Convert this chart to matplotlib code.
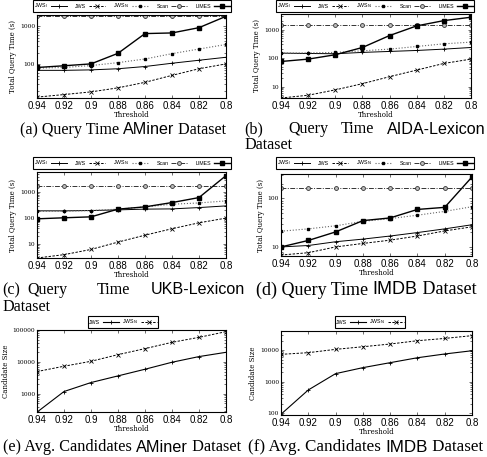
import numpy as np
import matplotlib
matplotlib.use('Agg')
import matplotlib.pyplot as plt
from matplotlib.ticker import FixedLocator, FuncFormatter, NullFormatter, LogLocator

# thresholds on the x axis (shown descending)
thresholds = [0.94, 0.92, 0.9, 0.88, 0.86, 0.84, 0.82, 0.8]
threshold_labels = ['0.94', '0.92', '0.9', '0.88', '0.86', '0.84', '0.82', '0.8']

# (a) query time, AMiner
aminer_jwsi = [69, 69, 71, 76, 87, 106, 127, 152]
aminer_jws = [13.7, 16, 18.8, 24, 33.5, 51, 76, 102]
aminer_jwsni = [79, 82, 92, 110, 137, 189, 250, 329]
aminer_scan = [1800, 1800, 1800, 1800, 1800, 1800, 1800, 1800]
aminer_limes = [82, 91, 102, 193, 635, 660, 908, 1800]

# (b) query time, AIDA-Lexicon
aida_jwsi = [149, 145, 142, 158, 171, 185, 206, 235]
aida_jws = [4.0, 5.0, 7.7, 12.7, 22.3, 38, 65, 92]
aida_jwsni = [149, 152, 158, 180, 206, 255, 316, 362]
aida_scan = [1500, 1500, 1500, 1500, 1500, 1500, 1500, 1500]
aida_limes = [76, 92, 131, 235, 616, 1343, 2053, 2700]

# (c) query time, UKB-Lexicon
ukb_jwsi = [191, 191, 196, 208, 222, 227, 255, 296]
ukb_jws = [2.9, 3.9, 6.2, 11.9, 22, 39, 66, 100]
ukb_jwsni = [185, 185, 196, 222, 270, 343, 385, 460]
ukb_scan = [1800, 1800, 1800, 1800, 1800, 1800, 1800, 1800]
ukb_limes = [94, 103, 112, 222, 272, 398, 620, 4350]

# (d) query time, IMDB
imdb_jwsi = [10, 10.7, 12.8, 14.5, 16.8, 19.8, 23.6, 28.7]
imdb_jws = [6.8, 7.6, 10, 11.8, 13.8, 16.8, 21.4, 26]
imdb_jwsni = [21.1, 23.6, 27.3, 33.7, 38.4, 45.2, 54.1, 67.7]
imdb_scan = [163, 163, 163, 163, 163, 163, 163, 163]
imdb_limes = [10, 13.6, 20.4, 34.9, 39.7, 59.4, 65.6, 278]

# (e) avg candidates, AMiner
cand_aminer_jws = [267, 1183, 2260, 3650, 5900, 9770, 14700, 20000]
cand_aminer_jwsni = [4990, 7330, 10470, 16900, 26100, 41100, 58900, 88700]

# (f) avg candidates, IMDB
cand_imdb_jws = [93, 545, 1790, 2770, 3980, 5700, 7500, 9500]
cand_imdb_jwsni = [7300, 8250, 10500, 12700, 15500, 19700, 23300, 28500]

W, H = 487, 457
fig = plt.figure(figsize=(W / 100, H / 100), dpi=100)
SERIF = 'DejaVu Serif'
CAPSERIF = 'Liberation Serif'
SANS = 'Liberation Sans'


def rect(x0, y0, x1, y1):
    return [x0 / W, 1 - y1 / H, (x1 - x0) / W, (y1 - y0) / H]


def style_axes(ax, ylim, ylabel):
    ax.set_yscale('log')
    ax.set_xlim(0.94, 0.8)
    ax.set_ylim(*ylim)
    ax.xaxis.set_major_locator(FixedLocator(thresholds))
    ax.set_xticklabels(threshold_labels, fontsize=7, family=SANS)
    ax.yaxis.set_major_locator(LogLocator(base=10))
    ax.yaxis.set_minor_locator(LogLocator(base=10, subs=np.arange(2, 10)))
    ax.yaxis.set_major_formatter(FuncFormatter(lambda v, p: '%d' % round(v)))
    ax.yaxis.set_minor_formatter(NullFormatter())
    for lab in ax.get_yticklabels():
        lab.set_fontsize(4.3)
        lab.set_family(SERIF)
    ax.tick_params(which='both', direction='in', top=True, right=True,
                   width=0.4, pad=1.5)
    ax.tick_params(which='major', length=2.5)
    ax.tick_params(which='minor', length=1.3)
    ax.tick_params(axis='x', pad=2)
    for s in ax.spines.values():
        s.set_linewidth(0.8)
    ax.set_xlabel('Threshold', fontsize=5, family=SERIF, labelpad=0.5)
    ax.set_ylabel(ylabel, fontsize=5, family=SERIF, labelpad=2)


def add_legend(handles, labels, xy, colspace):
    leg = fig.legend(handles, labels,
                     loc='center', bbox_to_anchor=(xy[0] / W, 1 - xy[1] / H),
                     ncol=len(handles), fontsize=3.8, markerfirst=False,
                     handlelength=3.0, handletextpad=0.5, columnspacing=colspace,
                     borderpad=0.25, fancybox=False, edgecolor='black', framealpha=1)
    leg.get_frame().set_linewidth(0.8)
    for t in leg.get_texts():
        t.set_family(SANS)


def query_panel(box, jwsi, jws, jwsni, scan, limes, ylim, legend_xy):
    ax = fig.add_axes(rect(*box))
    h1, = ax.plot(thresholds, jwsi, color='black', lw=0.7, marker='+', ms=3, mew=0.6)
    h2, = ax.plot(thresholds, jws, color='black', lw=0.7, ls=(0, (2.5, 1.5)),
                  marker='x', ms=2.2, mew=0.6)
    h3, = ax.plot(thresholds, jwsni, color='#666666', lw=0.8, ls=':',
                  marker='s', ms=1.8, mfc='black', mec='black')
    h4, = ax.plot(thresholds, scan, color='#333333', lw=0.7, ls=(0, (5, 1.5, 1, 1.5)),
                  marker='o', ms=2.8, mfc='#bbbbbb', mec='#333333', mew=0.6)
    h5, = ax.plot(thresholds, limes, color='black', lw=1.0, marker='s', ms=2.2)
    style_axes(ax, ylim, 'Total Query Time (s)')
    add_legend([h1, h2, h3, h4, h5],
               [r'JWS$_\mathrm{I}$', 'JWS', r'JWS$_\mathrm{NI}$', 'Scan', 'LIMES'],
               legend_xy, 1.6)
    return ax


def cand_panel(box, jws, jwsni, ylim, legend_xy):
    ax = fig.add_axes(rect(*box))
    h1, = ax.plot(thresholds, jws, color='black', lw=0.8, marker='+', ms=3, mew=0.6)
    h2, = ax.plot(thresholds, jwsni, color='black', lw=0.7, ls=(0, (2.5, 1.5)),
                  marker='x', ms=2.4, mew=0.6)
    style_axes(ax, ylim, 'Candidate Size')
    add_legend([h1, h2], ['JWS', r'JWS$_\mathrm{NI}$'], legend_xy, 0.5)
    return ax


query_panel((37, 15, 226, 98), aminer_jwsi, aminer_jws, aminer_jwsni, aminer_scan,
            aminer_limes, (13, 1950), (132, 6))
query_panel((281, 14, 471, 98), aida_jwsi, aida_jws, aida_jwsni, aida_scan,
            aida_limes, (4, 3500), (375, 6))
query_panel((37, 172, 226, 258), ukb_jwsi, ukb_jws, ukb_jwsni, ukb_scan,
            ukb_limes, (2.9, 6000), (132, 163))
query_panel((281, 174, 472, 256), imdb_jwsi, imdb_jws, imdb_jwsni, imdb_scan,
            imdb_limes, (6.5, 320), (375, 163))
cand_panel((37, 330, 226, 412), cand_aminer_jws, cand_aminer_jwsni, (270, 100000), (123, 322))
cand_panel((281, 331, 472, 415), cand_imdb_jws, cand_imdb_jwsni, (88, 40000), (370, 322))

# captions: serif text with sans-serif dataset names
renderer = fig.canvas.get_renderer()


def text_width(s, family, size):
    t = fig.text(0, 0, s, fontsize=size, family=family)
    w = t.get_window_extent(renderer).width
    t.remove()
    return w


def caption(parts, x0, x1, y):
    # pick the font size that makes the caption span x0..x1
    ref = sum(text_width(s, f, 10) for s, f in parts)
    size = 10 * (x1 - x0) / ref
    x = x0
    for s, f in parts:
        fig.text(x / W, 1 - y / H, s, fontsize=size, family=f, va='center', ha='left')
        x += text_width(s, f, size)
    return size


cap = caption([('(a) Query Time ', CAPSERIF), ('AMiner', SANS), (' Dataset', CAPSERIF)],
              20, 228, 130)
caption([('(d) Query Time ', CAPSERIF), ('IMDB', SANS), (' Dataset', CAPSERIF)], 256, 476, 290)
caption([('(e) Avg. Candidates ', CAPSERIF), ('AMiner', SANS), (' Dataset', CAPSERIF)],
        3, 240, 447)
caption([('(f) Avg. Candidates ', CAPSERIF), ('IMDB', SANS), (' Dataset', CAPSERIF)],
        248, 483, 447)


def word_at(s, family, x, y, ha='left'):
    fig.text(x / W, 1 - y / H, s, fontsize=cap, family=family, va='center', ha=ha)


# justified two-line captions
word_at('(b)', CAPSERIF, 244, 129)
word_at('Query', CAPSERIF, 288, 129)
word_at('Time', CAPSERIF, 341, 129)
word_at('AIDA-Lexicon', SANS, 486, 129, ha='right')
word_at('Dataset', CAPSERIF, 244, 145)

word_at('(c)', CAPSERIF, 2, 290)
word_at('Query', CAPSERIF, 27, 290)
word_at('Time', CAPSERIF, 97, 290)
word_at('UKB-Lexicon', SANS, 245, 290, ha='right')
word_at('Dataset', CAPSERIF, 2, 307)

fig.savefig('out.png', dpi=100)
